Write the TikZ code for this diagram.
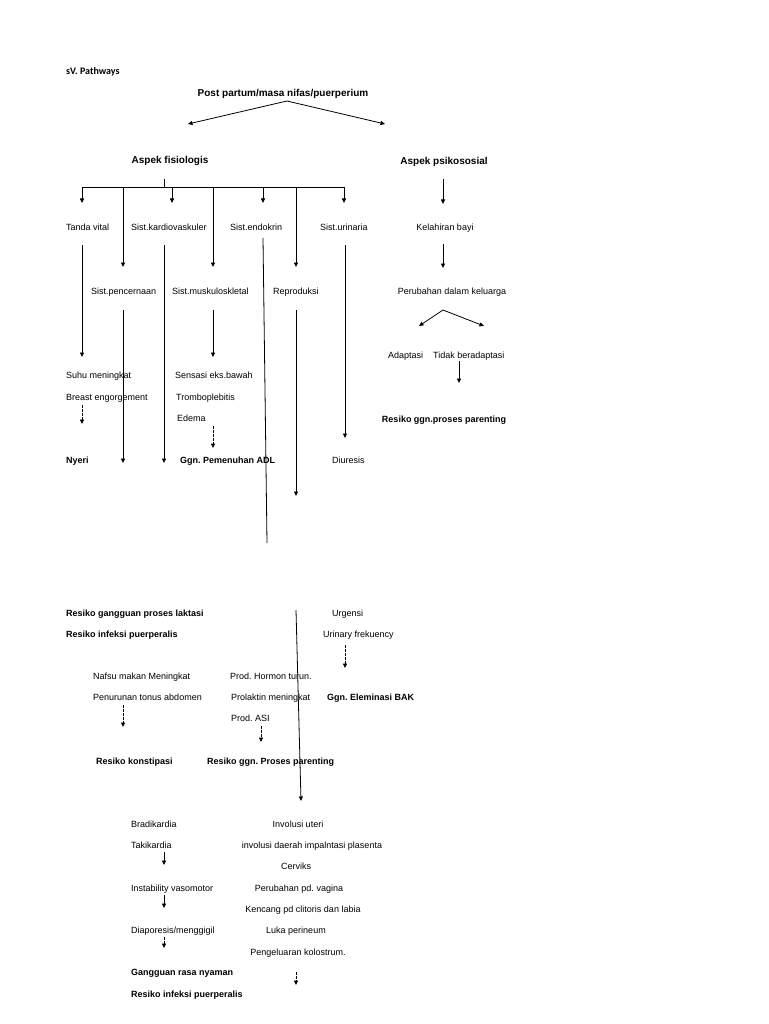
\documentclass[tikz,border=0pt]{standalone}
\usepackage{fontspec}
\setmainfont{Liberation Sans}
\newfontfamily\calfont{Carlito}
\usetikzlibrary{arrows.meta, positioning}
\frenchspacing

\begin{document}
\begin{tikzpicture}[x=1pt, y=-1pt,
        txt/.style={font=\fontsize{9}{10}\selectfont, inner sep=0pt,
                    text height=6.5pt, text depth=1.9pt},
        lt/.style={txt, anchor=west},
        hdc/.style={txt, font=\fontsize{9}{10}\selectfont\bfseries},
        hd/.style={hdc, anchor=west},
        big/.style={hdc, font=\fontsize{10}{12}\selectfont\bfseries},
        ln/.style={line width=0.8pt},
        arr/.style={ln, -{Triangle[length=4.5pt, width=4pt]}},
        dasharr/.style={arr, dash pattern=on 2.5pt off 1.5pt}]
        \useasboundingbox (0,0) rectangle (768,1024);

        % Titles
        \node[hd, font=\calfont\fontsize{10}{12}\selectfont\bfseries] (title) at (66,72) {sV. Pathways};
        \node[big] (pp) at (283,94) {Post partum/masa nifas/puerperium};
        \node[big] (af) at (170,161) {Aspek fisiologis};
        \node[big] (ap) at (444,162) {Aspek psikososial};

        % Plain labels, left aligned
        \foreach \n/\x/\y/\t in {
            tv/66/228/Tanda vital, kv/131/228/Sist.kardiovaskuler,
            en/230/228/Sist.endokrin, ur/320/228/Sist.urinaria,
            pc/91/292/Sist.pencernaan, mk/172/292/Sist.muskuloskletal,
            rp/273/292/Reproduksi,
            ad/388/356/Adaptasi, tb/433/356/Tidak beradaptasi,
            sm/66/376/Suhu meningkat, se/175/376/Sensasi eks.bawah,
            be/66/398/Breast engorgement, tp/176/398/Tromboplebitis,
            ed/177/419/Edema, di/332/461/Diuresis,
            ug/332/614/Urgensi, uf/323/635/Urinary frekuency,
            nm/93/677/Nafsu makan Meningkat, ht/230/677/Prod. Hormon turun.,
            ta/93/698/Penurunan tonus abdomen, pl/231/698/Prolaktin meningkat,
            asi/231/719/Prod. ASI,
            bk/131/825/Bradikardia, tk/131/846/Takikardia,
            iv/131/889/Instability vasomotor, dm/131/931/{Diaporesis/menggigil}
        } {
            \node[lt] (\n) at (\x,\y) {\t};
        }

        % Plain labels, centred
        \foreach \n/\x/\y/\t in {
            kb/445/228/Kelahiran bayi, pdk/452/292/Perubahan dalam keluarga,
            iu/298/825/Involusi uteri, ip/312/846/involusi daerah impalntasi plasenta,
            cv/296/867/Cerviks, pv/299/889/Perubahan pd. vagina,
            kc/303/910/Kencang pd clitoris dan labia, lp/296/931/Luka perineum,
            pko/298/953/Pengeluaran kolostrum.
        } {
            \node[txt] (\n) at (\x,\y) {\t};
        }

        % Bold labels
        \foreach \n/\x/\y/\t in {
            ny/66/461/Nyeri, adl/180/461/Ggn. Pemenuhan ADL,
            rl/66/614/Resiko gangguan proses laktasi, ri/66/635/Resiko infeksi puerperalis,
            eb/327/698/Ggn. Eleminasi BAK,
            rk/96/762/Resiko konstipasi, rgp/207/762/Resiko ggn. Proses parenting,
            gr/131/973/Gangguan rasa nyaman, ri2/131/995/Resiko infeksi puerperalis
        } {
            \node[hd] (\n) at (\x,\y) {\t};
        }
        \node[hdc] (rpp) at (444,420) {Resiko ggn.proses parenting};

        % Split under the title
        \coordinate (ppS) at (287,101);
        \coordinate (ppL) at (188,124);
        \coordinate (ppR) at (385,124);
        \draw[arr] (ppS) -- (ppL);
        \draw[arr] (ppS) -- (ppR);

        % Bus under Aspek fisiologis
        \coordinate (tickA) at (164,179);
        \coordinate (tickB) at (164,187);
        \coordinate (busL) at (82,187);
        \coordinate (busR) at (344,187);
        \draw[ln] (tickA) -- (tickB);
        \draw[ln] (busL) -- (busR);

        % Vertical arrows
        \foreach \n/\x/\ya/\yb in {
            bA/82/187/203, bB/172/187/203, bC/263/187/203, bD/344/187/203,
            bE/123/187/267, bF/213/187/267, bG/296/187/267,
            aps/443/179/204, akb/443/244/268, atb/459/361/383,
            atv/82/245/357, akv/164/245/463, aur/345/245/438,
            apc/123/310/463, amk/213/310/357, arp/296/310/496,
            atk/164/852/865, aiv/164/895/908
        } {
            \coordinate (\n a) at (\x,\ya);
            \coordinate (\n b) at (\x,\yb);
            \draw[arr] (\n a) -- (\n b);
        }

        % Dashed arrows
        \foreach \n/\x/\ya/\yb in {
            dbe/82/405/424, ded/213/426/448, duf/345/645/668,
            dta/123/705/727, dasi/261/726/742, ddm/164/937/948,
            dpk/296/972/985
        } {
            \coordinate (\n a) at (\x,\ya);
            \coordinate (\n b) at (\x,\yb);
            \draw[dasharr] (\n a) -- (\n b);
        }

        % Split under Perubahan dalam keluarga
        \coordinate (pdkS) at (443,310);
        \coordinate (pdkL) at (419,326);
        \coordinate (pdkR) at (484,326);
        \draw[arr] (pdkS) -- (pdkL);
        \draw[arr] (pdkS) -- (pdkR);

        % Long lines
        \coordinate (enA) at (263,238);
        \coordinate (enB) at (267,543);
        \draw[ln] (enA) -- (enB);
        \coordinate (rpA) at (296,610);
        \coordinate (rpB) at (301,801);
        \draw[arr] (rpA) -- (rpB);
    \end{tikzpicture}
\end{document}
